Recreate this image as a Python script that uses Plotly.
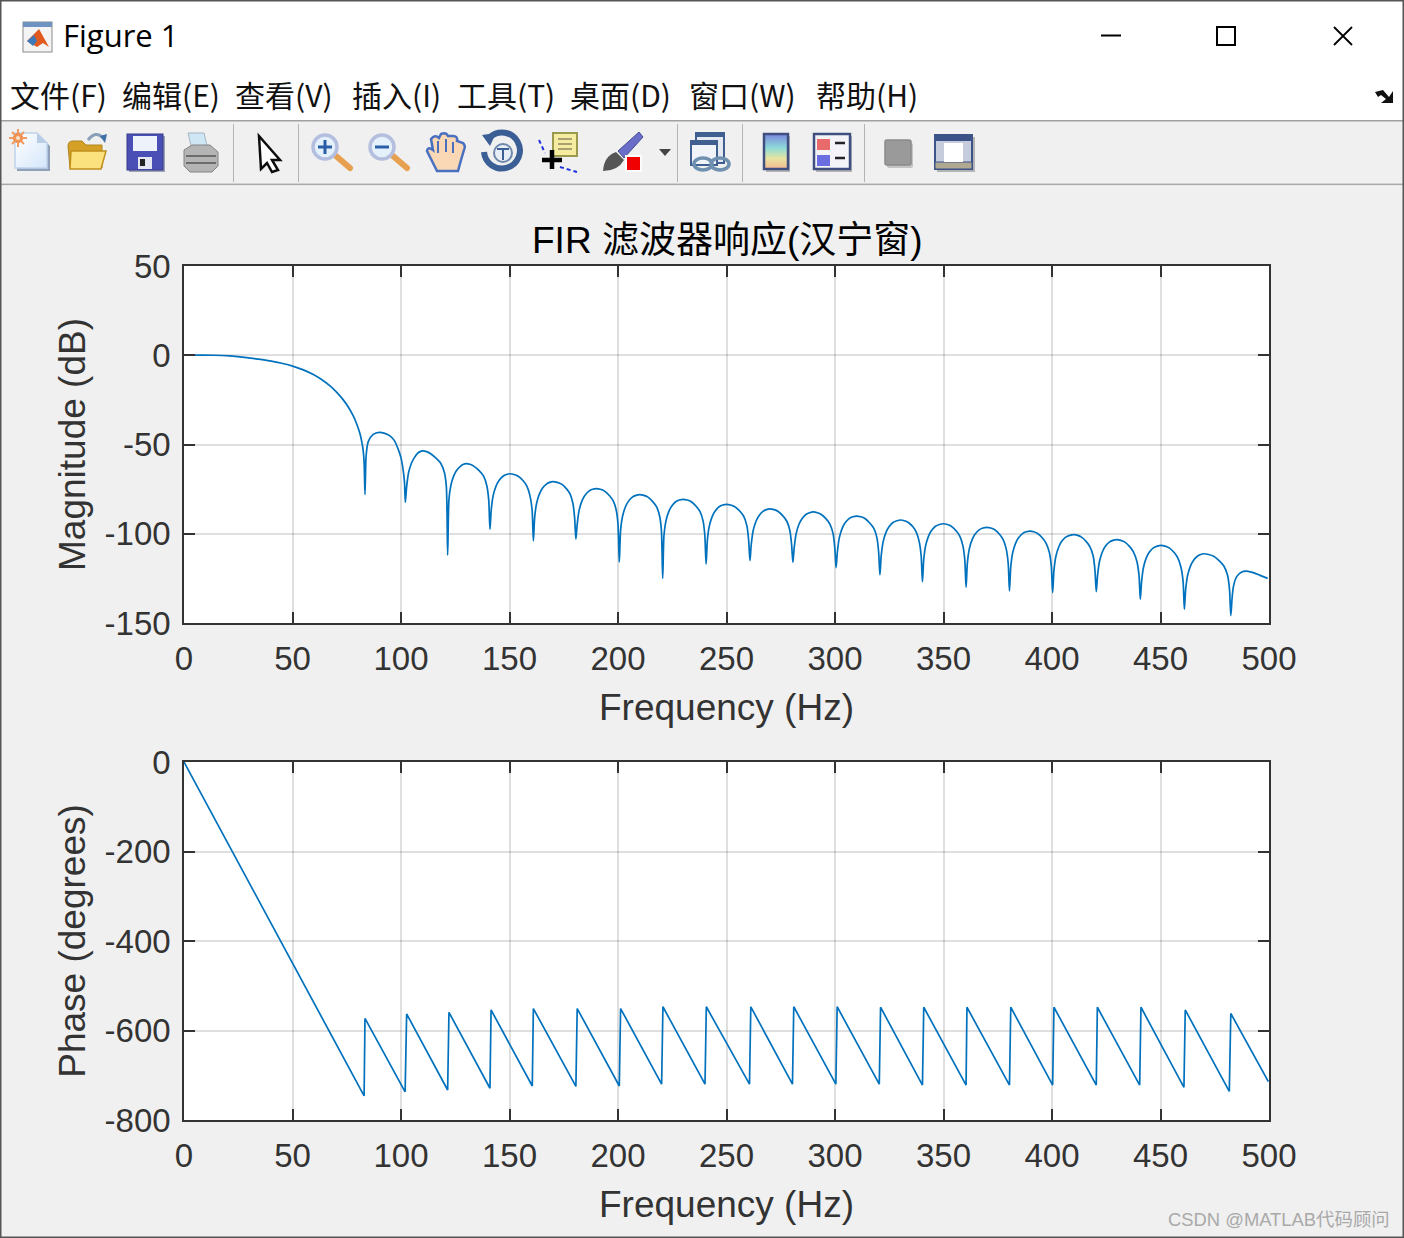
import base64
import plotly.graph_objects as go

W, H = 1404, 1238

mag_freq = [
    0, 13.5, 21.2, 28.9, 34.3, 39.6, 45, 50.4, 55, 59.6, 63.4, 67.3, 70.4, 73.4, 75.7, 78, 79.5, 81.1, 82, 82.6, 83, 83.4,
    83.7, 83.9, 84.9, 87.2, 90, 92.5, 94.9, 96.9, 98.8, 100, 101, 101.6, 102,
    102.6, 103.5, 104.8, 106.1, 107.6, 108.8, 110, 111.8, 113.5, 116, 118.3, 120, 120.9, 121.5,
    122.1, 123, 124.3, 125.6, 127.5, 128.8, 130, 131.8, 133.5, 136, 138, 139.5, 140.4, 141,
    141.6, 142.5, 143.8, 145.1, 147, 148.6, 150.2, 152.1, 154, 156.3, 158, 159.4, 160.4, 161,
    161.6, 162.5, 163.8, 165.1, 167, 168.5, 170, 172, 174, 176.2, 177.9, 179.2, 180, 180.6,
    181.2, 182.1, 183.4, 184.7, 186.6, 188.3, 190, 191.9, 193.8, 196, 197.8, 199.2, 200, 200.6,
    201.2, 202.1, 203.4, 204.7, 206.6, 208.3, 210, 211.9, 213.8, 216, 217.8, 219.2, 220, 220.6,
    221.2, 222.1, 223.4, 224.7, 226.6, 228.3, 230, 231.9, 233.8, 236, 237.8, 239.2, 240, 240.6,
    241.2, 242.1, 243.4, 244.7, 246.6, 248.3, 250, 251.9, 253.8, 256.2, 258, 259.4, 260.2, 260.8,
    261.4, 262.3, 263.6, 264.9, 266.8, 268.4, 270, 271.9, 273.8, 276, 277.8, 279.2, 280, 280.6,
    281.2, 282.1, 283.4, 284.7, 286.6, 288.3, 290, 291.9, 293.7, 295.9, 297.7, 299.1, 299.9, 300.5,
    301.1, 302, 303.3, 304.6, 306.5, 308.2, 310, 311.9, 313.8, 316, 317.9, 319.3, 320.1, 320.7,
    321.3, 322.2, 323.5, 324.8, 326.7, 328.5, 330.3, 332, 333.8, 336, 337.5, 338.8, 339.7, 340.3,
    340.9, 341.8, 343.1, 344.4, 346.3, 348.1, 350, 351.8, 353.6, 355.8, 357.5, 358.9, 359.8, 360.4,
    361, 361.9, 363.2, 364.5, 366.4, 368.2, 370, 371.8, 373.6, 375.8, 377.5, 378.9, 379.8, 380.4,
    381, 381.9, 383.2, 384.5, 386.4, 388.1, 389.9, 391.6, 393.4, 395.6, 397.3, 398.8, 399.7, 400.3,
    400.9, 401.8, 403.1, 404.4, 406.3, 408.2, 410.2, 411.9, 413.6, 415.8, 417.5, 419, 419.8, 420.4,
    421, 421.9, 423.2, 424.5, 426.4, 428.1, 429.9, 431.7, 433.6, 435.8, 437.5, 439.1, 440.1, 440.7,
    441.3, 442.2, 443.5, 444.8, 446.7, 448.5, 450.3, 452.1, 454, 456.2, 457.9, 459.4, 460.4, 461,
    461.6, 462.5, 463.8, 465.1, 467, 468.5, 470, 472.2, 474.5, 477, 479.2, 480.9, 481.8, 482.4,
    483, 483.6, 485.1, 487.4, 489.7, 492.8, 495.9, 499.4,
]
mag_db = [
    0, 0, -0.4, -1.3, -2.2, -3.2, -4.5, -6.2, -8.2, -10.8, -13.6, -17.2, -20.8, -25, -29, -34, -38.2, -44, -49, -53.6, -60, -78.1,
    -64, -56.8, -48.4, -44.3, -43.2, -43.8, -45.2, -47.7, -53, -57.5, -64.3, -71, -82.4,
    -73.6, -65.7, -60.5, -57.5, -55, -54, -53.6, -54, -55, -57.5, -60.5, -65.7, -73.6, -112,
    -80.7, -72.8, -67.6, -64.6, -62.1, -61.1, -60.7, -61.1, -62.1, -64.6, -67.6, -72.8, -80.7, -97.5,
    -86.4, -78.5, -73.3, -70.3, -67.8, -66.8, -66.4, -66.8, -67.8, -70.3, -73.3, -78.5, -86.4, -104,
    -90.8, -82.9, -77.7, -74.7, -72.2, -71.2, -70.8, -71.2, -72.2, -74.7, -77.7, -82.9, -90.8, -103,
    -94.7, -86.8, -81.6, -78.6, -76.1, -75.1, -74.7, -75.1, -76.1, -78.6, -81.6, -86.8, -94.7, -115.8,
    -98.1, -90.2, -85, -82, -79.5, -78.5, -78.1, -78.5, -79.5, -82, -85, -90.2, -98.1, -125,
    -100.7, -92.8, -87.6, -84.6, -82.1, -81.1, -80.7, -81.1, -82.1, -84.6, -87.6, -92.8, -100.7, -117,
    -103.5, -95.6, -90.4, -87.4, -84.9, -83.9, -83.5, -83.9, -84.9, -87.4, -90.4, -95.6, -103.5, -115,
    -106.1, -98.2, -93, -90, -87.5, -86.5, -86.1, -86.5, -87.5, -90, -93, -98.2, -106.1, -116,
    -107.8, -99.9, -94.7, -91.7, -89.2, -88.2, -87.8, -88.2, -89.2, -91.7, -94.7, -99.9, -107.8, -119,
    -110.1, -102.2, -97, -94, -91.5, -90.5, -90.1, -90.5, -91.5, -94, -97, -102.2, -110.1, -123,
    -112.3, -104.4, -99.2, -96.2, -93.7, -92.7, -92.3, -92.7, -93.7, -96.2, -99.2, -104.4, -112.3, -126.9,
    -114.4, -106.5, -101.3, -98.3, -95.8, -94.8, -94.4, -94.8, -95.8, -98.3, -101.3, -106.5, -114.4, -130,
    -116.4, -108.5, -103.3, -100.3, -97.8, -96.8, -96.4, -96.8, -97.8, -100.3, -103.3, -108.5, -116.4, -132,
    -118.5, -110.6, -105.4, -102.4, -99.9, -98.9, -98.5, -98.9, -99.9, -102.4, -105.4, -110.6, -118.5, -133,
    -120.5, -112.6, -107.4, -104.4, -101.9, -100.9, -100.5, -100.9, -101.9, -104.4, -107.4, -112.6, -120.5, -132.4,
    -123.3, -115.4, -110.2, -107.2, -104.7, -103.7, -103.3, -103.7, -104.7, -107.2, -110.2, -115.4, -123.3, -136.7,
    -126.5, -118.6, -113.4, -110.4, -107.9, -106.9, -106.5, -106.9, -107.9, -110.4, -113.4, -118.6, -126.5, -142.3,
    -131.2, -123.3, -118.1, -115.1, -112.6, -111.6, -111.2, -111.6, -112.6, -115.1, -118.1, -123.3, -131.2, -145.9,
    -136, -129.6, -124, -121.4, -120.9, -121.8, -123.3, -125,
]

phase_freq = [
    0, 83, 83.4, 101.9, 102.6, 121.5, 122.1, 141, 141.5, 160.5, 161, 180.6, 181.2,
    200.6, 201.2, 220.1, 220.7, 240.1, 240.7, 260.6, 261.2, 280.4, 281, 300.4, 301,
    320.4, 321, 340.3, 340.9, 360.4, 360.8, 380.4, 381, 400.3, 400.9, 420.4, 420.9,
    440.4, 441, 460.8, 461.4, 481.7, 482.4, 499.7,
]
phase_deg = [
    0, -746, -573, -737, -563, -733, -559.5, -729, -554, -724, -551, -725, -551,
    -724, -551, -720, -547, -720, -547, -720, -547, -720, -547, -720, -547,
    -720, -548, -722, -548, -722, -548, -722, -548, -722, -548, -722, -548,
    -722, -548, -727, -554, -736, -562, -714,
]

freq_ticks = [0, 50, 100, 150, 200, 250, 300, 350, 400, 450, 500]
mag_ticks = [-150, -100, -50, 0, 50]
mag_labels = ["-150", "-100", "-50", "0", "50"]
phase_ticks = [-800, -600, -400, -200, 0]
phase_labels = ["-800", "-600", "-400", "-200", "0"]

menu_items = ["文件(F)", "编辑(E)", "查看(V)", "插入(I)", "工具(T)", "桌面(D)", "窗口(W)", "帮助(H)"]
menu_left = [8, 120, 233, 350, 455, 568, 687, 814]

LINE = "#0072BD"
AXIS = "#333333"
GRID = "rgba(38,38,38,0.15)"
FONT = "Liberation Sans, Noto Sans CJK SC, sans-serif"

# window chrome (title bar, toolbar icons) drawn as one svg behind the figure
chrome = """<svg xmlns="http://www.w3.org/2000/svg" width="1404" height="186" viewBox="0 0 1404 186">
<defs><linearGradient id="cb" x1="0" y1="0" x2="0" y2="1">
<stop offset="0" stop-color="#7a86e0"/><stop offset="0.4" stop-color="#8fdcd8"/>
<stop offset="0.7" stop-color="#e8e4a0"/><stop offset="1" stop-color="#f4b890"/></linearGradient>
<linearGradient id="pg" x1="0" y1="0" x2="1" y2="1"><stop offset="0" stop-color="#ffffff"/><stop offset="1" stop-color="#d4e6fa"/></linearGradient>
<filter id="b"><feGaussianBlur stdDeviation="0.5"/></filter></defs>
<rect width="1404" height="120" fill="#ffffff"/>
<rect y="120" width="1404" height="66" fill="#f0f0f0"/>
<rect y="120" width="1404" height="1.5" fill="#a0a0a0"/>
<rect y="183.6" width="1404" height="1.5" fill="#a8a8a8"/>
<!-- window icon -->
<rect x="23" y="22" width="29" height="30" fill="#f4f4f4" stroke="#8a8a8a"/>
<rect x="23" y="22" width="29" height="5" fill="#6f93c0"/>
<path d="M27 41 L39 29 L49 47 L43 43 L37 47 Z" fill="#e2591f"/>
<path d="M27 41 L34 35 L37 41 L33 46 Z" fill="#3d78b8"/>
<!-- window buttons -->
<path d="M1101 35.5 H1121" stroke="#000" stroke-width="2"/>
<rect x="1217" y="27" width="18" height="18" fill="none" stroke="#000" stroke-width="2"/>
<path d="M1334 27 L1352 45 M1352 27 L1334 45" stroke="#000" stroke-width="1.8"/>
<path d="M1375 92 L1383 90 L1389 97 L1393 91 V103 H1381 L1386 99 L1381 95 L1378 97 Z" fill="#111"/>
<!-- separators -->
<path d="M233.5 124 V182 M298.5 124 V182 M677.5 124 V182 M742.5 124 V182 M864.5 124 V182" stroke="#b4b4b4"/>
<g filter="url(#b)">
<!-- new -->
<path d="M17 136 H40 L50 146 V171 H17 Z" fill="#8fa0b8"/>
<path d="M15 133 H37 L47 143 V168 H15 Z" fill="url(#pg)" stroke="#c0d4ec" stroke-width="1.5"/>
<path d="M37 133 L47 143 H37 Z" fill="#b8cce4"/>
<circle cx="18" cy="138" r="5" fill="#ea7a3a"/>
<path d="M18 129 V147 M9 138 H27 M12 132 L24 144 M24 132 L12 144" stroke="#f09a60" stroke-width="2"/>
<circle cx="18" cy="138" r="2" fill="#fbe0c8"/>
<!-- open -->
<path d="M68 146 Q68 141 73 141 H82 L86 145 H102 V168 H70 Z" fill="#d4a028" stroke="#b0851c"/>
<path d="M71 151 H106 L101 169 H70 Z" fill="#fbe27e" stroke="#c0901e" stroke-width="1.5"/>
<path d="M88 140 Q96 130 103 138" fill="none" stroke="#8aa0b8" stroke-width="3"/>
<path d="M100 136 L107 134 L105 143 Z" fill="#3f6fa8"/>
<!-- save -->
<rect x="129" y="136" width="36" height="36" fill="#9aa4b4"/>
<rect x="127" y="134" width="36" height="36" fill="#4a50b4" stroke="#34388c"/>
<rect x="133" y="136" width="24" height="15" fill="#eef2fb"/>
<rect x="138" y="157" width="14" height="12" fill="#e4e6f2"/><rect x="140" y="159" width="5" height="7" fill="#222"/>
<!-- print -->
<path d="M188 133 H204 L208 150 H192 Z" fill="#cfe6f5" stroke="#a4b4c0"/>
<path d="M184 150 L192 145 H210 L218 152 V166 L212 172 H190 L184 166 Z" fill="#b4b4b4" stroke="#848484"/>
<path d="M186 156 H216 M186 163 H216" stroke="#6c6c6c" stroke-width="2"/>
<!-- pointer -->
<path d="M259 136 L280 160 L272 160 L278 170 L272 172 L267 163 L261 169 Z" fill="#fff" stroke="#111" stroke-width="2.5"/>
<!-- zoom in/out -->
<path d="M336 156 L350 168" stroke="#e6a050" stroke-width="6" stroke-linecap="round"/>
<circle cx="325" cy="147" r="12" fill="#e4f1fb" stroke="#b4bede" stroke-width="3.5"/>
<path d="M318 147 H332 M325 140 V154" stroke="#2a5fa8" stroke-width="3"/>
<path d="M393 156 L407 168" stroke="#e6a050" stroke-width="6" stroke-linecap="round"/>
<circle cx="382" cy="147" r="12" fill="#e4f1fb" stroke="#b4bede" stroke-width="3.5"/>
<path d="M375 147 H389" stroke="#2a5fa8" stroke-width="3"/>
<!-- hand -->
<path d="M437 171 L427 151 Q428 146 433 150 L431 139 Q435 134 439 138 L441 134 Q446 132 448 136 L453 136 Q458 136 457 141 L463 143 Q466 146 464 150 L461 160 L458 171 Z" fill="#fad7b5" stroke="#4a70c0" stroke-width="2.5"/>
<path d="M438 141 V153 M446 139 V152 M453 142 V153" stroke="#4a70c0" stroke-width="2"/>
<!-- rotate -->
<path d="M490 137 A18 18 0 1 1 484 152" fill="none" stroke="#3a5f94" stroke-width="6"/>
<path d="M482 135 L496 133 L490 146 Z" fill="#3a5f94"/>
<circle cx="503" cy="153" r="9" fill="#e8eef5" stroke="#6d88ac" stroke-width="2"/>
<path d="M497 149 H509 M503 149 V160" stroke="#3a5f94" stroke-width="2"/>
<!-- data tip -->
<rect x="553" y="133" width="24" height="23" fill="#f6eca0" stroke="#9a9a50" stroke-width="2"/>
<path d="M558 139 H572 M558 144 H572 M558 149 H572" stroke="#a8a070" stroke-width="2"/>
<path d="M552 150 V169 M542 160 H562" stroke="#000" stroke-width="4.5"/>
<path d="M539 140 L545 153 M560 167 L577 172" stroke="#2030e0" stroke-width="2" stroke-dasharray="4 3"/>
<!-- brush -->
<path d="M618 151 L639 132 L643 137 L624 158 Z" fill="#6a6ec8" stroke="#444a90"/>
<path d="M603 171 Q604 156 616 152 L624 160 Q618 171 603 171 Z" fill="#555"/>
<rect x="625" y="155" width="17" height="17" fill="#fbfbfb"/>
<rect x="627" y="157" width="13" height="13" fill="#f00000"/>
<path d="M659 149 H671 L665 156 Z" fill="#444"/>
<!-- link -->
<rect x="696" y="133" width="28" height="30" fill="#e4e8f0" stroke="#3f5f90" stroke-width="2"/>
<rect x="696" y="133" width="28" height="4" fill="#3f5f90"/>
<rect x="691" y="141" width="26" height="24" fill="#f0f3f9" stroke="#3f5f90" stroke-width="2"/>
<rect x="691" y="141" width="26" height="4" fill="#3f5f90"/>
<ellipse cx="703" cy="164" rx="9" ry="6" fill="none" stroke="#6f90b0" stroke-width="3.5"/>
<ellipse cx="720" cy="164" rx="9" ry="6" fill="none" stroke="#6f90b0" stroke-width="3.5"/>
<!-- colorbar -->
<rect x="766" y="136" width="24" height="36" fill="#b4b4b4"/>
<rect x="764" y="134" width="24" height="35" fill="url(#cb)" stroke="#3f5080" stroke-width="2.5"/>
<!-- legend -->
<rect x="816" y="136" width="36" height="36" fill="#b4b4b4"/>
<rect x="814" y="134" width="36" height="35" fill="#f4f4f8" stroke="#3f5080" stroke-width="2.5"/>
<rect x="817" y="139" width="13" height="11" fill="#e86a6a"/><rect x="817" y="155" width="13" height="11" fill="#6a6ee0"/>
<path d="M835 143 H845 M835 158 H845" stroke="#222" stroke-width="2.5"/>
<!-- hide / plot tools -->
<rect x="887" y="143" width="26" height="25" rx="2" fill="#c4c4c4"/>
<rect x="885" y="140" width="26" height="25" rx="2" fill="#9a9a9a" stroke="#8a8a8a" stroke-width="1.5"/>
<rect x="937" y="137" width="38" height="35" fill="#b4b4b4"/>
<rect x="935" y="135" width="37" height="34" fill="#c6ccdc" stroke="#3a5288" stroke-width="2"/>
<rect x="935" y="135" width="37" height="6" fill="#3a5288"/>
<rect x="935" y="162" width="37" height="7" fill="#b0a890" stroke="#3a5288"/>
<rect x="944" y="143" width="19" height="19" fill="#ffffff"/>
</g>
</svg>"""
chrome_uri = "data:image/svg+xml;base64," + base64.b64encode(chrome.encode()).decode()

mag_trace = go.Scatter(x=mag_freq, y=mag_db, mode="lines",
                       line=dict(color=LINE, width=1.7, shape="spline", smoothing=0.8),
                       xaxis="x", yaxis="y", hoverinfo="skip", showlegend=False)
phase_trace = go.Scatter(x=phase_freq, y=phase_deg, mode="lines", line=dict(color=LINE, width=1.7),
                         xaxis="x2", yaxis="y2", hoverinfo="skip", showlegend=False)
fig = go.Figure([mag_trace, phase_trace])


def x_axis(domain_anchor):
    return dict(
        domain=[184 / W, 1269 / W], range=[0, 500], anchor=domain_anchor,
        tickmode="array", tickvals=freq_ticks, ticks="inside", ticklen=11, tickwidth=1.5,
        tickcolor=AXIS, showline=True, linecolor=AXIS, linewidth=1.5, mirror="allticks",
        showgrid=True, gridcolor=GRID, gridwidth=1.6, zeroline=False,
        tickfont=dict(size=33, color=AXIS, family=FONT), ticklabelstandoff=6,
        title=dict(text="Frequency (Hz)", font=dict(size=37, color=AXIS, family=FONT), standoff=18),
    )


def y_axis(top, bottom, yrange, vals, labels, title, domain_anchor):
    return dict(
        domain=[1 - bottom / H, 1 - top / H], range=yrange, anchor=domain_anchor,
        tickmode="array", tickvals=vals, ticktext=labels, ticks="inside", ticklen=11, tickwidth=1.5,
        tickcolor=AXIS, showline=True, linecolor=AXIS, linewidth=1.5, mirror="allticks",
        showgrid=True, gridcolor=GRID, gridwidth=1.6, zeroline=False,
        tickfont=dict(size=33, color=AXIS, family=FONT), ticklabelstandoff=5,
        title=dict(text=title, font=dict(size=37, color=AXIS, family=FONT), standoff=8),
    )


def px_note(x, y, text, size, color="#000000", anchor="left", family=FONT):
    return dict(xref="paper", yref="paper", x=x / W, y=1 - y / H, text=text, showarrow=False,
                xanchor=anchor, yanchor="middle", font=dict(size=size, color=color, family=family))


notes = [px_note(61, 35, "Figure 1", 31, family="Open Sans, Noto Sans, sans-serif")]
for label, left in zip(menu_items, menu_left):
    notes.append(px_note(left, 94, label, 30, color="#111111", family="Noto Sans CJK SC, sans-serif"))
notes.append(px_note(727.5, 240, "FIR 滤波器响应(汉宁窗)", 37, anchor="center"))
notes.append(px_note(1392, 1219, "CSDN @MATLAB代码顾问", 18.4, color="#a9a9a9", anchor="right"))

fig.update_layout(
    width=W, height=H, autosize=False,
    margin=dict(l=0, r=0, t=0, b=0, pad=0, autoexpand=False),
    paper_bgcolor="#f0f0f0", plot_bgcolor="#ffffff",
    showlegend=False,
    xaxis=x_axis("y"),
    yaxis=y_axis(266, 623, [-150, 50], mag_ticks, mag_labels, "Magnitude (dB)", "x"),
    xaxis2=x_axis("y2"),
    yaxis2=y_axis(762, 1120, [-800, 0], phase_ticks, phase_labels, "Phase (degrees)", "x2"),
    annotations=notes,
    images=[dict(source=chrome_uri, xref="paper", yref="paper", x=0, y=1, sizex=1, sizey=186 / H,
                 xanchor="left", yanchor="top", sizing="stretch", layer="below")],
    shapes=[dict(type="rect", xref="paper", yref="paper", x0=0, y0=0, x1=1, y1=1,
                 line=dict(color="#555555", width=3), fillcolor="rgba(0,0,0,0)")],
)

fig.write_html("out.html", config=dict(displayModeBar=False),
               post_script="document.body.style.margin='0';document.body.style.overflow='hidden';")
